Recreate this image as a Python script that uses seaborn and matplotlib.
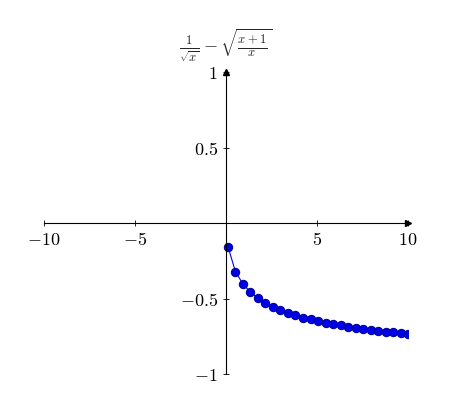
import matplotlib
matplotlib.use("Agg")
import matplotlib.pyplot as plt
import seaborn as sns
import pandas as pd

xs = [0.1, 0.5125, 0.925, 1.3375, 1.75, 2.1625, 2.575, 2.9875, 3.4, 3.8125, 4.225, 4.6375,
      5.05, 5.4625, 5.875, 6.2875, 6.7, 7.1125, 7.525, 7.9375, 8.35, 8.7625, 9.175, 9.5875, 10.0]
ys = [-0.155, -0.321, -0.403, -0.457, -0.498, -0.529, -0.555, -0.577, -0.595, -0.611, -0.626, -0.638,
      -0.650, -0.660, -0.669, -0.678, -0.686, -0.693, -0.700, -0.706, -0.712, -0.718, -0.723, -0.728, -0.733]
xticks = [-10, -5, 5, 10]
yticks = [-1, -0.5, 0.5, 1]
title = r"$\frac{1}{\sqrt{x}}-\sqrt{\frac{x+1}{x}}$"

sns.set_style("white")
plt.rcParams["mathtext.fontset"] = "cm"
df = pd.DataFrame({"x": xs, "y": ys})

fig = plt.figure(figsize=(4.74, 4.12), dpi=100)
ax = fig.add_axes([0.093, 0.092, 0.768, 0.733])
sns.lineplot(data=df, x="x", y="y", ax=ax, color="#0000e6", marker="o", markersize=6,
             markeredgecolor="#00009e", linewidth=0.8)
ax.set_xlim(-10, 10)
ax.set_ylim(-1, 1)
ax.spines["left"].set_position(("data", 0))
ax.spines["bottom"].set_position(("data", 0))
ax.spines["top"].set_visible(False)
ax.spines["right"].set_visible(False)
for s in ("left", "bottom"):
    ax.spines[s].set_color("black")
    ax.spines[s].set_linewidth(0.8)
ax.plot(1, 0, ">", color="black", markersize=4, transform=ax.get_yaxis_transform(), clip_on=False)
ax.plot(0, 1, "^", color="black", markersize=4, transform=ax.get_xaxis_transform(), clip_on=False)
ax.set_xticks(xticks)
ax.set_xticklabels([f"${t}$" for t in xticks], fontsize=13)
ax.set_yticks(yticks)
ax.set_yticklabels([f"${t:g}$" for t in yticks], fontsize=13)
ax.tick_params(direction="inout", length=5, width=0.6, colors="black", bottom=True, left=True)
ax.set_xlabel("")
ax.set_ylabel("")
ax.set_title(title, fontsize=13, pad=14)
fig.savefig("out.png", dpi=100)
